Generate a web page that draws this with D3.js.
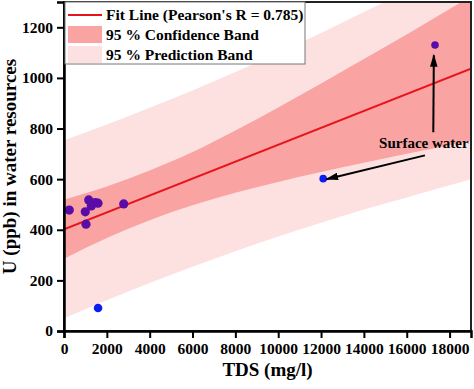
<!DOCTYPE html>
<html>
<head>
<meta charset="utf-8">
<script src="https://cdn.jsdelivr.net/npm/d3@7"></script>
<style>
  body { margin: 0; background: #fff; }
  text { font-family: "Liberation Serif", "Times New Roman", serif; font-weight: bold; }
</style>
</head>
<body>
<svg id="chart"></svg>
<script>
// groundwater samples (purple) and surface water (blue)
const tdsPurple = [247, 994, 1027, 1153, 1274, 1461, 1587, 2787, 17320]
const uPurple = [478, 471, 422, 518, 494, 507, 505, 502, 1130]
const tdsBlue = [1590, 12100]
const uBlue = [91, 602]

// fit line end points
const fitX = [0, 19000]
const fitY = [402, 1037]

// band edges at these TDS values
const bandX = [0, 2000, 4000, 6000, 8000, 10000, 12000, 14000, 16000, 18000, 19000]
const confUpper = [519, 571, 634, 707, 792, 883, 978, 1075, 1172, 1272, 1322]
const confLower = [285, 367, 438, 497, 546, 589, 628, 665, 700, 734, 752]
const predUpper = [754, 816, 882, 950, 1023, 1099, 1178, 1260, 1344, 1430, 1474]
const predLower = [50, 122, 190, 254, 315, 373, 428, 480, 528, 576, 600]

const xTicks = [0, 2000, 4000, 6000, 8000, 10000, 12000, 14000, 16000, 18000]
const yTicks = [0, 200, 400, 600, 800, 1000, 1200]

const legendLabels = ["Fit Line (Pearson's R = 0.785)", "95 % Confidence Band", "95 % Prediction Band"]

let dimensions = {
  width: 474, height: 389,
  margin: { top: 2, right: 3, bottom: 58, left: 64 },
}
dimensions.boundedWidth = dimensions.width - dimensions.margin.left - dimensions.margin.right
dimensions.boundedHeight = dimensions.height - dimensions.margin.top - dimensions.margin.bottom

const wrapper = d3.select("#chart")
  .attr("width", dimensions.width)
  .attr("height", dimensions.height)

const bounds = wrapper.append("g")
  .attr("transform", `translate(${dimensions.margin.left}, ${dimensions.margin.top})`)

const xScale = d3.scaleLinear().domain([0, 19000]).range([0, dimensions.boundedWidth])
const yScale = d3.scaleLinear().domain([0, 1300]).range([dimensions.boundedHeight, 0])

bounds.append("clipPath").attr("id", "clip")
  .append("rect")
  .attr("width", dimensions.boundedWidth)
  .attr("height", dimensions.boundedHeight)

const plot = bounds.append("g").attr("clip-path", "url(#clip)")

const bandArea = (lo, hi) => d3.area()
  .x((d, i) => xScale(bandX[i]))
  .y0((d, i) => yScale(lo[i]))
  .y1((d, i) => yScale(hi[i]))
  .curve(d3.curveMonotoneX)

plot.append("path")
  .attr("d", bandArea(predLower, predUpper)(bandX))
  .attr("fill", "#fde1e1")

plot.append("path")
  .attr("d", bandArea(confLower, confUpper)(bandX))
  .attr("fill", "#f9a3a3")

const lineGenerator = d3.line()
  .x((d, i) => xScale(fitX[i]))
  .y((d, i) => yScale(fitY[i]))

plot.append("path")
  .attr("d", lineGenerator(fitX))
  .attr("fill", "none")
  .attr("stroke", "#e8141b")
  .attr("stroke-width", 2)

// annotation arrows
const defs = wrapper.append("defs")
defs.append("marker")
  .attr("id", "head")
  .attr("viewBox", "0 0 10 10")
  .attr("refX", 9).attr("refY", 5)
  .attr("markerWidth", 6.5).attr("markerHeight", 3.8)
  .attr("orient", "auto")
  .attr("preserveAspectRatio", "none")
  .append("path").attr("d", "M0,0 L10,5 L0,10 Z").attr("fill", "#000")

const arrows = [
  { from: [17240, 785], to: [17265, 1090] },
  { from: [16850, 694], to: [12250, 600] },
]
bounds.selectAll(".arrow").data(arrows).join("line")
  .attr("x1", d => xScale(d.from[0])).attr("y1", d => yScale(d.from[1]))
  .attr("x2", d => xScale(d.to[0])).attr("y2", d => yScale(d.to[1]))
  .attr("stroke", "#000").attr("stroke-width", 2)
  .attr("marker-end", "url(#head)")

plot.selectAll(".purple").data(tdsPurple).join("circle")
  .attr("cx", d => xScale(d))
  .attr("cy", (d, i) => yScale(uPurple[i]))
  .attr("r", (d, i) => i === tdsPurple.length - 1 ? 3.8 : 4.6)
  .attr("fill", "#5a0ca8")

plot.selectAll(".blue").data(tdsBlue).join("circle")
  .attr("cx", d => xScale(d))
  .attr("cy", (d, i) => yScale(uBlue[i]))
  .attr("r", (d, i) => i === 0 ? 4.3 : 3.8)
  .attr("fill", "#0a1ef0")

bounds.append("text")
  .attr("x", xScale(16800)).attr("y", yScale(725))
  .attr("text-anchor", "middle")
  .attr("font-size", 15)
  .text("Surface water")

// frame
bounds.append("rect")
  .attr("width", dimensions.boundedWidth)
  .attr("height", dimensions.boundedHeight)
  .attr("fill", "none")
  .attr("stroke", "#222")
  .attr("stroke-width", 2)

// axes
const xAxis = bounds.append("g")
  .attr("transform", `translate(0, ${dimensions.boundedHeight})`)
xAxis.call(d3.axisBottom(xScale).tickValues(d3.range(0, 19001, 1000)).tickFormat("").tickSize(4))
xAxis.call(d3.axisBottom(xScale).tickValues(xTicks).tickFormat(d3.format("d")).tickSize(7).tickPadding(5))

const yAxis = bounds.append("g")
yAxis.call(d3.axisLeft(yScale).tickValues(d3.range(0, 1301, 100)).tickFormat("").tickSize(4))
yAxis.call(d3.axisLeft(yScale).tickValues(yTicks).tickFormat(d3.format("d")).tickSize(7).tickPadding(4))

wrapper.selectAll(".domain").attr("stroke", "#000").attr("stroke-width", 2.5)
wrapper.selectAll(".tick line").attr("stroke", "#000").attr("stroke-width", 2)
wrapper.selectAll(".tick text")
  .attr("fill", "#000")
  .attr("font-size", 15.5)
  .attr("font-family", "Liberation Serif, serif")
  .attr("font-weight", "bold")

// axis titles
wrapper.append("text")
  .attr("x", dimensions.margin.left + dimensions.boundedWidth / 2)
  .attr("y", 376)
  .attr("text-anchor", "middle")
  .attr("font-size", 19)
  .text("TDS (mg/l)")

wrapper.append("text")
  .attr("transform", `translate(16, ${dimensions.margin.top + dimensions.boundedHeight / 2}) rotate(-90)`)
  .attr("text-anchor", "middle")
  .attr("font-size", 19)
  .text("U (ppb) in water resources")

// legend
const legend = bounds.append("g").attr("transform", "translate(1, 0)")
legend.append("rect")
  .attr("width", 240).attr("height", 62)
  .attr("fill", "#fff")
  .attr("stroke", "#777")
  .attr("stroke-width", 1)

legend.append("line")
  .attr("x1", 3).attr("x2", 37).attr("y1", 13).attr("y2", 13)
  .attr("stroke", "#e8141b").attr("stroke-width", 2)
legend.append("rect")
  .attr("x", 3).attr("y", 24).attr("width", 34).attr("height", 17)
  .attr("fill", "#f9a3a3")
legend.append("rect")
  .attr("x", 3).attr("y", 44).attr("width", 34).attr("height", 17)
  .attr("fill", "#fde1e1")

legend.selectAll(".label").data(legendLabels).join("text")
  .attr("x", 41)
  .attr("y", (d, i) => 18 + i * 20)
  .attr("font-size", 15.5)
  .text(d => d)
</script>
</body>
</html>
